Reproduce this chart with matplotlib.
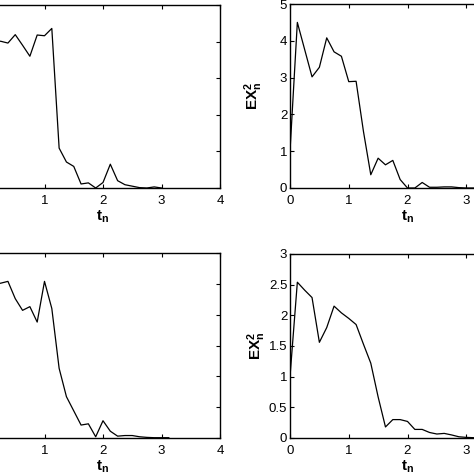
import numpy as np
import matplotlib
matplotlib.use("Agg")
from matplotlib import pyplot as plt
from matplotlib.ticker import FuncFormatter, MultipleLocator

plt.rcParams["font.family"] = ["Liberation Sans", "DejaVu Sans"]
plt.rcParams["mathtext.fontset"] = "custom"
plt.rcParams["mathtext.rm"] = "Liberation Sans"
plt.rcParams["mathtext.bf"] = "Liberation Sans:bold"
plt.rcParams["mathtext.it"] = "Liberation Sans:italic"

# time grid, step 0.125
t_top_left = np.arange(25) * 0.125
t_bottom_left = np.arange(26) * 0.125
t_top_right = np.arange(26) * 0.125
t_bottom_right = np.arange(26) * 0.125

ex_top_left = [1.0, 4.0, 4.01, 3.96, 4.19, 3.9, 3.6, 4.18, 4.16, 4.36,
               1.09, 0.71, 0.59, 0.11, 0.14, 0.0, 0.15, 0.65, 0.2, 0.09,
               0.05, 0.01, 0.0, 0.03, 0.0]
ex_top_right = [1.0, 4.5, 3.76, 3.02, 3.28, 4.08, 3.7, 3.58, 2.89, 2.9,
                1.54, 0.36, 0.81, 0.63, 0.75, 0.23, 0.0, 0.0, 0.15, 0.02,
                0.02, 0.03, 0.03, 0.01, 0.0, 0.0]
ex_bottom_left = [1.0, 2.5, 2.51, 2.54, 2.26, 2.07, 2.13, 1.88, 2.54, 2.1,
                  1.13, 0.67, 0.44, 0.21, 0.23, 0.02, 0.28, 0.11, 0.03, 0.04,
                  0.04, 0.02, 0.01, 0.005, 0.005, 0.005]
ex_bottom_right = [1.0, 2.54, 2.41, 2.29, 1.56, 1.8, 2.15, 2.04, 1.95, 1.85,
                   1.53, 1.22, 0.67, 0.18, 0.3, 0.3, 0.27, 0.14, 0.14, 0.09,
                   0.065, 0.075, 0.05, 0.02, 0.01, 0.005]

W = 474.0


def box(left, top, right, bottom):
    # pixel box -> figure fraction rect
    return [left / W, (W - bottom) / W, (right - left) / W, (bottom - top) / W]


def style(ax, ymax, ystep, left_panel, label_x=None):
    ax.set_xlim(0, 4)
    ax.set_ylim(0, ymax)
    ax.xaxis.set_major_locator(MultipleLocator(1))
    ax.yaxis.set_major_locator(MultipleLocator(ystep))
    ax.tick_params(direction="in", top=True, right=True, length=3,
                   width=0.8, labelsize=9.5)
    ax.tick_params(axis="x", pad=5)
    ax.tick_params(axis="y", pad=2)
    for s in ax.spines.values():
        s.set_linewidth(1.0)
    ax.set_xlabel(r"$\mathbf{t_n}$", fontsize=11, labelpad=1)
    if left_panel:
        # this part of the figure lies outside the crop: hide "0" and y labels
        ax.xaxis.set_major_formatter(
            FuncFormatter(lambda v, p: "" if v == 0 else "%g" % v))
        ax.tick_params(labelleft=False)
    else:
        ax.xaxis.set_major_formatter(
            FuncFormatter(lambda v, p: "" if v == 4 else "%g" % v))
        ax.yaxis.set_major_formatter(FuncFormatter(lambda v, p: "%g" % v))
        ax.set_ylabel(r"$\mathbf{EX_n^2}$", fontsize=11)
        ax.yaxis.set_label_coords(label_x, 0.5)


fig = plt.figure(figsize=(4.74, 4.74), dpi=100)

ax1 = fig.add_axes(box(-14, 5, 220, 188))
ax1.plot(t_top_left, ex_top_left, color="black", lw=0.9)
style(ax1, 5, 1, True)

ax2 = fig.add_axes(box(290, 4, 525, 188))
ax2.plot(t_top_right, ex_top_right, color="black", lw=0.9)
style(ax2, 5, 1, False, -0.106)

ax3 = fig.add_axes(box(-14, 253, 220, 438))
ax3.plot(t_bottom_left, ex_bottom_left, color="black", lw=0.9)
style(ax3, 3, 0.5, True)

ax4 = fig.add_axes(box(290, 254, 525, 438))
ax4.plot(t_bottom_right, ex_bottom_right, color="black", lw=0.9)
style(ax4, 3, 0.5, False, -0.094)

fig.savefig("out.png", dpi=100)
